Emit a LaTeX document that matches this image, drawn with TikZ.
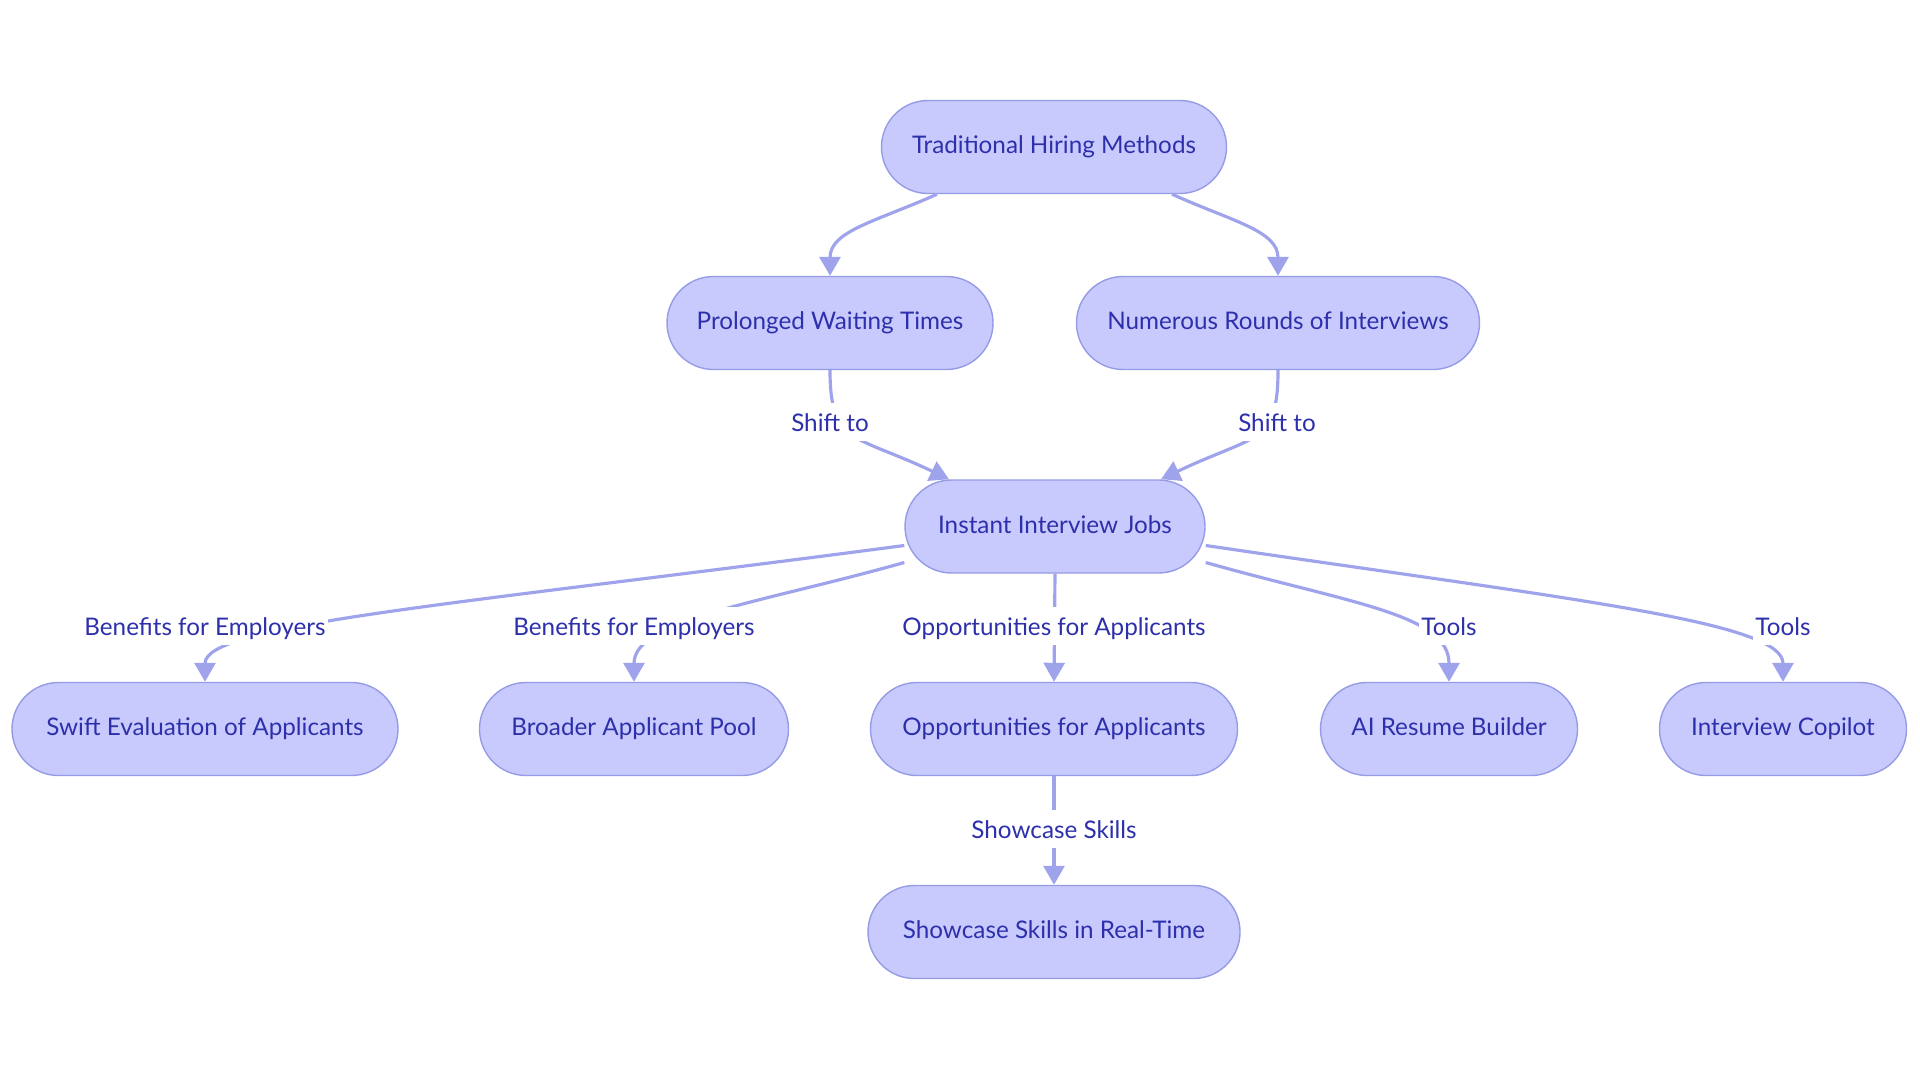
\documentclass[tikz,border=0pt]{standalone}
\usepackage{fontspec}
\setmainfont{Lato}
\usetikzlibrary{arrows.meta}
\definecolor{boxfill}{RGB}{200,202,254}
\definecolor{boxline}{RGB}{150,155,230}
\definecolor{linkcol}{RGB}{158,163,236}
\definecolor{txtcol}{RGB}{45,48,170}
\begin{document}
\begin{tikzpicture}[link/.style={draw=linkcol,line width=0.9pt,-{Triangle[length=1.9mm,width=2.1mm]}},
	font=\fontsize{6.9pt}{8pt}\selectfont]
		\useasboundingbox (0,0) rectangle (19.2,-10.83);
		\begin{scope}[every node/.style={draw=boxline,fill=boxfill,text=txtcol,line width=0.4pt,
			rounded corners=4.65mm,minimum height=9.3mm,inner sep=0pt,text height=1.15ex,text depth=0.4ex}]
		\node[minimum width=34.5mm] (T) at (10.54,-1.47) {Traditional Hiring Methods};
		\node[minimum width=32.6mm] (P) at (8.30,-3.23) {Prolonged Waiting Times};
		\node[minimum width=40.3mm] (N) at (12.78,-3.23) {Numerous Rounds of Interviews};
		\node[minimum width=30mm] (I) at (10.55,-5.265) {Instant Interview Jobs};
		\node[minimum width=38.6mm] (S) at (2.05,-7.29) {Swift Evaluation of Applicants};
		\node[minimum width=30.9mm] (B) at (6.34,-7.29) {Broader Applicant Pool};
		\node[minimum width=36.7mm] (O) at (10.54,-7.29) {Opportunities for Applicants};
		\node[minimum width=25.7mm] (A) at (14.49,-7.29) {AI Resume Builder};
		\node[minimum width=24.7mm] (C) at (17.83,-7.29) {Interview Copilot};
		\node[minimum width=37.2mm] (R) at (10.54,-9.32) {Showcase Skills in Real-Time};
		\end{scope}
		
		\draw[link] ([xshift=-11.7mm]T.south) .. controls +(-0.6,-0.27) and +(0,0.45) .. (P.north);
		\draw[link] ([xshift=11.8mm]T.south) .. controls +(0.6,-0.27) and +(0,0.45) .. (N.north);
		\draw[link] (P.south) .. controls +(0,-0.75) and +(-0.94,0.45) .. ([xshift=-10.6mm]I.north);
		\draw[link] (N.south) .. controls +(0,-0.75) and +(0.94,0.45) .. ([xshift=10.6mm]I.north);
		\draw[link] ([yshift=-1.9mm]I.west) .. controls +(-4.55,-0.6) and +(0,0.575) .. (S.north);
		\draw[link] ([yshift=-3.6mm]I.west) .. controls +(-1.45,-0.41) and +(0,0.625) .. (B.north);
		\draw[link] (I.south) -- (O.north);
		\draw[link] ([yshift=-3.6mm]I.east) .. controls +(1.45,-0.41) and +(0,0.675) .. (A.north);
		\draw[link] ([yshift=-1.9mm]I.east) .. controls +(3.75,-0.55) and +(0,0.595) .. (C.north);
		\draw[link] (O.south) -- (R.north);
		
		\begin{scope}[every node/.style={fill=white,text=txtcol,inner sep=0.8pt,text height=1.45ex,text depth=0.4ex}]
		\node (l1) at (8.30,-4.22) {Shift to};
		\node (l2) at (12.77,-4.22) {Shift to};
		\node (l3) at (2.05,-6.26) {Benefits for Employers};
		\node (l4) at (6.34,-6.26) {Benefits for Employers};
		\node (l5) at (10.54,-6.26) {Opportunities for Applicants};
		\node (l6) at (14.49,-6.26) {Tools};
		\node (l7) at (17.83,-6.26) {Tools};
		\node (l8) at (10.54,-8.29) {Showcase Skills};
		\end{scope}
		\end{tikzpicture}
\end{document}
